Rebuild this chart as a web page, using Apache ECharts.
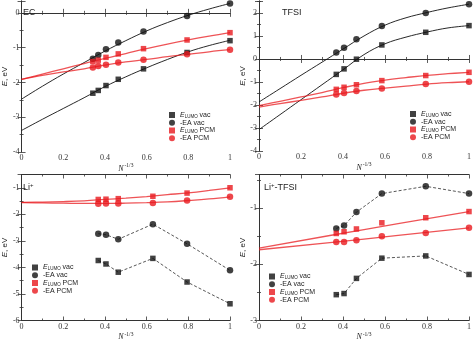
<!DOCTYPE html>
<html>
<head>
<meta charset="utf-8">
<script src="https://cdn.jsdelivr.net/npm/echarts@6/dist/echarts.min.js"></script>
<style>
  html, body { margin: 0; padding: 0; background: #fff; }
  #chart { width: 474px; height: 342px; }
</style>
</head>
<body>
<div id="chart"></div>
<script>
// N^-1/3 positions of the cluster sizes
const xEC = [0.342, 0.368, 0.405, 0.464, 0.585, 0.794, 1.0];
const xTFSI = [0.368, 0.405, 0.464, 0.585, 0.794, 1.0];
const xLi = [0.368, 0.405, 0.464, 0.630, 0.794, 1.0];
const xLiTFSI = [0.368, 0.405, 0.464, 0.585, 0.794, 1.0];
const xFit = [0, 0.1, 0.2, 0.3, 0.4, 0.5, 0.6, 0.7, 0.8, 0.9, 1.0];
const xFitLine = [0, 0.5, 1.0];

// EC
const ecLumoVac = [-2.31, -2.23, -2.09, -1.91, -1.61, -1.14, -0.80];
const ecEaVac = [-1.32, -1.21, -1.05, -0.85, -0.54, -0.09, 0.27];
const ecLumoPcm = [-1.40, -1.36, -1.28, -1.18, -1.03, -0.78, -0.57];
const ecEaPcm = [-1.57, -1.53, -1.49, -1.43, -1.35, -1.19, -1.06];
const ecFitLumoVac = [-3.38, -3.06, -2.75, -2.44, -2.12, -1.84, -1.58, -1.34, -1.12, -0.94, -0.79];
const ecFitEaVac = [-2.48, -2.11, -1.76, -1.43, -1.10, -0.80, -0.52, -0.28, -0.07, 0.11, 0.27];
const ecFitLumoPcm = [-1.91, -1.76, -1.61, -1.46, -1.31, -1.17, -1.03, -0.90, -0.78, -0.67, -0.57];
const ecFitEaPcm = [-1.91, -1.80, -1.70, -1.61, -1.50, -1.41, -1.34, -1.26, -1.19, -1.12, -1.06];

// TFSI
const tfsiLumoVac = [-0.67, -0.43, -0.01, 0.61, 1.16, 1.45];
const tfsiEaVac = [0.28, 0.49, 0.86, 1.43, 2.00, 2.38];
const tfsiLumoPcm = [-1.32, -1.23, -1.12, -0.94, -0.72, -0.58];
const tfsiEaPcm = [-1.54, -1.48, -1.39, -1.28, -1.09, -0.99];
const tfsiFitLumoVac = [-3.07, -2.42, -1.77, -1.12, -0.47, 0.19, 0.66, 0.95, 1.17, 1.35, 1.45];
const tfsiFitEaVac = [-1.87, -1.29, -0.71, -0.14, 0.43, 1.00, 1.47, 1.79, 2.02, 2.22, 2.38];
const tfsiFitLumoPcm = [-2.03, -1.84, -1.65, -1.46, -1.25, -1.06, -0.92, -0.81, -0.71, -0.64, -0.58];
const tfsiFitEaPcm = [-2.09, -1.94, -1.80, -1.65, -1.49, -1.36, -1.27, -1.18, -1.09, -1.03, -0.99];

// Li+
const liLumoVac = [-3.74, -3.87, -4.18, -3.66, -4.55, -5.37];
const liEaVac = [-2.73, -2.77, -2.94, -2.37, -3.11, -4.11];
const liLumoPcm = [-1.44, -1.43, -1.41, -1.32, -1.20, -1.00];
const liEaPcm = [-1.60, -1.59, -1.59, -1.57, -1.48, -1.34];
const liFitLumoPcm = [-1.55, -1.54, -1.52, -1.49, -1.44, -1.39, -1.33, -1.26, -1.19, -1.10, -1.00];
const liFitEaPcm = [-1.56, -1.57, -1.58, -1.59, -1.59, -1.58, -1.56, -1.53, -1.48, -1.42, -1.34];

// Li+-TFSI
const ltLumoVac = [-2.54, -2.52, -2.25, -1.89, -1.85, -2.18];
const ltEaVac = [-1.36, -1.31, -1.07, -0.74, -0.61, -0.74];
const ltLumoPcm = [-1.45, -1.42, -1.37, -1.26, -1.17, -1.06];
const ltEaPcm = [-1.60, -1.60, -1.57, -1.50, -1.44, -1.35];
const ltFitLumoPcm = [-1.71, -1.38, -1.06];
const ltFitEaPcm = [-1.74, -1.55, -1.35];

const BLACK = '#111111';
const RED = '#e8191e';
const NAMES = ['ELUMO vac', '-EA vac', 'ELUMO PCM', '-EA PCM'];
const LEGEND_TEXT = {
  'ELUMO vac': '{i|E}{sub|LUMO}{t| vac}',
  '-EA vac': '{t|-EA vac}',
  'ELUMO PCM': '{i|E}{sub|LUMO}{t| PCM}',
  '-EA PCM': '{t|-EA PCM}'
};

const pair = (xs, ys) => xs.map((x, k) => [x, ys[k]]);

const grids = [
  { left: 17.5, top: 1, width: 212.5, height: 151 },
  { left: 259, top: 1, width: 213, height: 150 },
  { left: 17.5, top: 174.5, width: 212.5, height: 150 },
  { left: 259, top: 174.5, width: 213, height: 150 }
];
const yRanges = [[-4, 0.34], [-4, 2.52], [-6, -0.5], [-3, -0.4]];

const frameLine = { show: true, lineStyle: { color: '#333', width: 1 } };
const tick = { show: true, inside: true, length: 4, lineStyle: { color: '#333', width: 0.8 } };
const minor = { show: true, splitNumber: 2, length: 2, lineStyle: { color: '#333', width: 0.8 } };
const serifLabel = { fontFamily: 'Liberation Serif', fontSize: 8, color: '#333' };

const xAxes = [];
const yAxes = [];
grids.forEach((g, i) => {
  xAxes.push({
    type: 'value', gridIndex: i, min: 0, max: 1, interval: 0.2, position: 'bottom',
    axisLine: frameLine, axisTick: tick, minorTick: minor, splitLine: { show: false },
    axisLabel: Object.assign({ margin: 2, formatter: v => (v === 0 || v === 1) ? String(v) : v.toFixed(1) }, serifLabel),
    name: '{i|N}{sup|-1/3}', nameLocation: 'middle', nameGap: 11,
    nameTextStyle: {
      rich: {
        i: { fontFamily: 'Liberation Serif', fontStyle: 'italic', fontSize: 8, color: '#222' },
        sup: { fontFamily: 'Liberation Serif', fontSize: 5.5, color: '#222', padding: [0, 0, 5, 1] }
      }
    }
  });
  xAxes.push({
    type: 'value', gridIndex: i, min: 0, max: 1, interval: 0.2, position: 'top',
    axisLine: frameLine, axisTick: tick, minorTick: minor, splitLine: { show: false },
    axisLabel: { show: false }
  });
  yAxes.push({
    type: 'value', gridIndex: i, min: yRanges[i][0], max: yRanges[i][1], interval: 1, position: 'left',
    axisLine: frameLine, axisTick: tick, minorTick: minor, splitLine: { show: false },
    axisLabel: Object.assign({
      margin: 2, showMaxLabel: Number.isInteger(yRanges[i][1]),
      formatter: v => Number.isInteger(v) ? (v < 0 ? '-' + (-v) : String(v)) : ''
    }, serifLabel),
    name: '{i|E}{t|, eV}', nameLocation: 'middle', nameGap: 9,
    nameTextStyle: {
      rich: {
        i: { fontFamily: 'Liberation Sans', fontStyle: 'italic', fontSize: 8, color: '#222' },
        t: { fontFamily: 'Liberation Sans', fontSize: 8, color: '#222' }
      }
    }
  });
  yAxes.push({
    type: 'value', gridIndex: i, min: yRanges[i][0], max: yRanges[i][1], interval: 1, position: 'right',
    axisLine: frameLine, axisTick: tick, minorTick: minor, splitLine: { show: false },
    axisLabel: { show: false }
  });
});

const series = [];
function fitLine(i, xs, ys, color) {
  series.push({
    type: 'line', xAxisIndex: 2 * i, yAxisIndex: 2 * i, data: pair(xs, ys),
    smooth: 0.4, symbol: 'none', silent: true, z: 2,
    lineStyle: { color: color, width: color === RED ? 1.3 : 0.9, opacity: color === RED ? 0.75 : 1 }
  });
}
function dashLine(i, xs, ys) {
  series.push({
    type: 'line', xAxisIndex: 2 * i, yAxisIndex: 2 * i, data: pair(xs, ys),
    symbol: 'none', silent: true, z: 2,
    lineStyle: { color: '#444', width: 0.9, type: [3, 2] }
  });
}
function points(i, name, xs, ys) {
  const isRect = name.startsWith('E');
  const color = name.endsWith('PCM') ? RED : BLACK;
  series.push({
    type: 'scatter', name: name, xAxisIndex: 2 * i, yAxisIndex: 2 * i, data: pair(xs, ys),
    symbol: isRect ? 'rect' : 'circle', symbolSize: isRect ? 5.5 : 6.5, z: 3,
    itemStyle: { color: color }
  });
}

// EC
fitLine(0, xFit, ecFitLumoVac, BLACK);
fitLine(0, xFit, ecFitEaVac, BLACK);
fitLine(0, xFit, ecFitLumoPcm, RED);
fitLine(0, xFit, ecFitEaPcm, RED);
points(0, NAMES[0], xEC, ecLumoVac);
points(0, NAMES[1], xEC, ecEaVac);
points(0, NAMES[2], xEC, ecLumoPcm);
points(0, NAMES[3], xEC, ecEaPcm);
// TFSI
fitLine(1, xFit, tfsiFitLumoVac, BLACK);
fitLine(1, xFit, tfsiFitEaVac, BLACK);
fitLine(1, xFit, tfsiFitLumoPcm, RED);
fitLine(1, xFit, tfsiFitEaPcm, RED);
points(1, NAMES[0], xTFSI, tfsiLumoVac);
points(1, NAMES[1], xTFSI, tfsiEaVac);
points(1, NAMES[2], xTFSI, tfsiLumoPcm);
points(1, NAMES[3], xTFSI, tfsiEaPcm);
// Li+
dashLine(2, xLi, liLumoVac);
dashLine(2, xLi, liEaVac);
fitLine(2, xFit, liFitLumoPcm, RED);
fitLine(2, xFit, liFitEaPcm, RED);
points(2, NAMES[0], xLi, liLumoVac);
points(2, NAMES[1], xLi, liEaVac);
points(2, NAMES[2], xLi, liLumoPcm);
points(2, NAMES[3], xLi, liEaPcm);
// Li+-TFSI
dashLine(3, xLiTFSI, ltLumoVac);
dashLine(3, xLiTFSI, ltEaVac);
fitLine(3, xFitLine, ltFitLumoPcm, RED);
fitLine(3, xFitLine, ltFitEaPcm, RED);
points(3, NAMES[0], xLiTFSI, ltLumoVac);
points(3, NAMES[1], xLiTFSI, ltEaVac);
points(3, NAMES[2], xLiTFSI, ltLumoPcm);
points(3, NAMES[3], xLiTFSI, ltEaPcm);

const legendRich = {
  i: { fontFamily: 'Liberation Sans', fontStyle: 'italic', fontSize: 7, color: '#222', lineHeight: 7.5 },
  sub: { fontFamily: 'Liberation Sans', fontSize: 4.5, color: '#222', padding: [3, 0, 0, 0], lineHeight: 7.5 },
  t: { fontFamily: 'Liberation Sans', fontSize: 7, color: '#222', lineHeight: 7.5 }
};
const legendPos = [[169, 111], [410, 110], [32, 263.5], [269, 272.5]];
const legends = legendPos.map(p => ({
  data: NAMES, orient: 'vertical', left: p[0], top: p[1], padding: 0,
  itemWidth: 6, itemHeight: 6, itemGap: 0, selectedMode: false,
  formatter: n => LEGEND_TEXT[n],
  textStyle: { fontSize: 7, lineHeight: 7.5, rich: legendRich }
}));

const titleStyle = {
  fontFamily: 'Liberation Sans', fontSize: 9, fontWeight: 'normal', color: '#222',
  rich: {
    b: { fontFamily: 'Liberation Sans', fontSize: 9, color: '#222' },
    sup: { fontFamily: 'Liberation Sans', fontSize: 6, color: '#222', padding: [0, 0, 5, 0] }
  }
};
const titles = [
  { text: 'EC', left: 23, top: 8 },
  { text: 'TFSI', left: 282, top: 8 },
  { text: '{b|Li}{sup|+}', left: 23, top: 182 },
  { text: '{b|Li}{sup|+}{b|-TFSI}', left: 264, top: 182 }
].map(t => Object.assign({ padding: 0, textStyle: titleStyle }, t));

const chart = echarts.init(document.getElementById('chart'), null, { renderer: 'canvas' });
chart.setOption({
  animation: false,
  backgroundColor: '#ffffff',
  title: titles,
  legend: legends,
  grid: grids,
  xAxis: xAxes,
  yAxis: yAxes,
  series: series
});
</script>
</body>
</html>
